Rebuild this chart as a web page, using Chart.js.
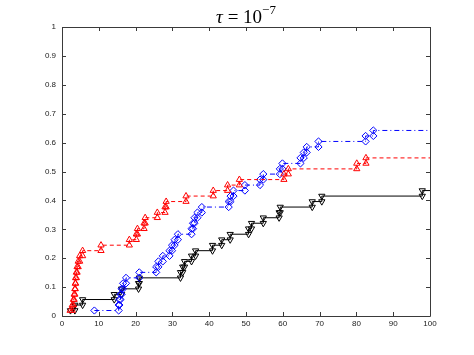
<!DOCTYPE html>
<html>
<head>
<meta charset="utf-8">
<script src="https://cdn.jsdelivr.net/npm/chart.js@4/dist/chart.umd.min.js"></script>
<style>
  html, body { margin: 0; padding: 0; background: #ffffff; }
  #wrap { width: 474px; height: 355px; }
</style>
</head>
<body>
<div id="wrap"><canvas id="c" width="474" height="355"></canvas></div>
<script>
// ---- data ----
const xTickValues = [0, 10, 20, 30, 40, 50, 60, 70, 80, 90, 100];
const xTickLabels = ['0', '10', '20', '30', '40', '50', '60', '70', '80', '90', '100'];
const yTickValues = [0, 0.1, 0.2, 0.3, 0.4, 0.5, 0.6, 0.7, 0.8, 0.9, 1];
const yTickLabels = ['0', '0.1', '0.2', '0.3', '0.4', '0.5', '0.6', '0.7', '0.8', '0.9', '1'];

// red (dashed, up triangles): x of each jump and level after it
const redStepX = [2.2, 2.8, 3.1, 3.3, 3.5, 3.6, 3.7, 3.9, 4.1, 4.4, 4.8, 5.6, 10.6, 18.3, 20.2,
                  20.5, 22.3, 22.6, 25.9, 28.0, 28.3, 33.7, 41.1, 45.0, 48.2, 60.3, 61.5, 80.1, 82.6];
const redStepY = [0.019, 0.038, 0.057, 0.075, 0.094, 0.113, 0.132, 0.151, 0.170, 0.189, 0.208, 0.226, 0.245, 0.264, 0.283,
                  0.302, 0.321, 0.340, 0.358, 0.377, 0.396, 0.415, 0.434, 0.453, 0.472, 0.491, 0.509, 0.528, 0.547];

// blue (dash-dot, diamonds)
const blueStepX = [8.8, 15.4, 15.6, 15.9, 16.2, 16.6, 17.4, 21.0, 25.6, 26.2, 27.4, 29.2, 29.9, 30.6, 31.5, 35.2, 35.6,
                   36.0, 36.8, 38.0, 45.3, 45.8, 46.6, 49.7, 53.8, 54.7, 59.2, 59.9, 64.8, 65.7, 66.5, 69.7, 82.5, 84.6];
const blueStepY = [0.019, 0.038, 0.057, 0.075, 0.094, 0.113, 0.132, 0.151, 0.170, 0.189, 0.208, 0.226, 0.245, 0.264, 0.283, 0.302, 0.321,
                   0.340, 0.358, 0.377, 0.396, 0.415, 0.434, 0.453, 0.472, 0.491, 0.509, 0.528, 0.547, 0.566, 0.585, 0.604, 0.623, 0.642];

// black (solid, down triangles)
const blackStepX = [2.3, 3.5, 5.6, 14.2, 16.2, 20.8, 21.0, 32.2, 32.8, 33.3, 35.2, 36.3, 40.9, 43.4, 45.7, 50.7, 51.5,
                    54.7, 59.0, 59.3, 68.0, 70.6, 97.9];
const blackStepY = [0.019, 0.038, 0.057, 0.075, 0.094, 0.113, 0.132, 0.151, 0.170, 0.189, 0.208, 0.226, 0.245, 0.264, 0.283, 0.302, 0.321,
                    0.340, 0.358, 0.377, 0.396, 0.415, 0.434];

const xEnd = 100;

// build stair vertices (corner before and after each jump) from the step arrays
function stairs(xs, ys) {
  const pts = [];
  const radii = [];
  for (let i = 0; i < xs.length; i++) {
    if (i > 0) { pts.push({x: xs[i], y: ys[i - 1]}); radii.push(3.6); }
    pts.push({x: xs[i], y: ys[i]}); radii.push(3.6);
  }
  pts.push({x: xEnd, y: ys[ys.length - 1]}); radii.push(0);
  return {pts, radii};
}

const red = stairs(redStepX, redStepY);
const blue = stairs(blueStepX, blueStepY);
const black = stairs(blackStepX, blackStepY);

const boxPlugin = {
  id: 'matlabBox',
  afterDatasetsDraw(chart) {
    const {ctx, chartArea: a, scales} = chart;
    ctx.save();
    ctx.strokeStyle = '#3a3a3a';
    ctx.lineWidth = 1;
    ctx.setLineDash([]);
    ctx.beginPath();
    ctx.rect(Math.round(a.left) + 0.5, Math.round(a.top) + 0.5, Math.round(a.right - a.left), Math.round(a.bottom - a.top));
    ctx.stroke();
    const tl = 4;
    ctx.beginPath();
    xTickValues.forEach(v => {
      const px = Math.round(scales.x.getPixelForValue(v)) + 0.5;
      ctx.moveTo(px, a.bottom); ctx.lineTo(px, a.bottom - tl);
      ctx.moveTo(px, a.top); ctx.lineTo(px, a.top + tl);
    });
    yTickValues.forEach(v => {
      const py = Math.round(scales.y.getPixelForValue(v)) + 0.5;
      ctx.moveTo(a.left, py); ctx.lineTo(a.left + tl, py);
      ctx.moveTo(a.right, py); ctx.lineTo(a.right - tl, py);
    });
    ctx.stroke();
    ctx.restore();
  },
  afterDraw(chart) {
    const {ctx, chartArea: a} = chart;
    ctx.save();
    ctx.fillStyle = '#000';
    ctx.textBaseline = 'alphabetic';
    const f1 = 'italic 19px "Liberation Serif"';
    const f2 = '19px "Liberation Serif"';
    const f3 = '13px "Liberation Serif"';
    const parts = [[f1, '\u03C4', 0], [f2, ' = 10', 0], [f3, '\u22127', -9]];
    let total = 0;
    parts.forEach(p => { ctx.font = p[0]; total += ctx.measureText(p[1]).width; });
    let x = (a.left + a.right) / 2 - total / 2;
    const base = 23;
    parts.forEach(p => {
      ctx.font = p[0];
      ctx.fillText(p[1], x, base + p[2]);
      x += ctx.measureText(p[1]).width;
    });
    ctx.restore();
  }
};

new Chart(document.getElementById('c'), {
  type: 'scatter',
  data: {
    datasets: [
      {
        label: 'red',
        data: red.pts,
        showLine: true,
        borderColor: '#ff0000',
        borderWidth: 1,
        borderDash: [4, 3],
        pointStyle: 'triangle',
        pointRadius: red.radii,
        pointBorderColor: '#ff0000',
        pointBackgroundColor: 'rgba(255,255,255,0)',
        pointBorderWidth: 1,
        tension: 0
      },
      {
        label: 'blue',
        data: blue.pts,
        showLine: true,
        borderColor: '#0000ff',
        borderWidth: 1,
        borderDash: [5, 3, 1, 3],
        pointStyle: 'rectRot',
        pointRadius: blue.radii,
        pointBorderColor: '#0000ff',
        pointBackgroundColor: 'rgba(255,255,255,0)',
        pointBorderWidth: 1,
        tension: 0
      },
      {
        label: 'black',
        data: black.pts,
        showLine: true,
        borderColor: '#000000',
        borderWidth: 1,
        pointStyle: 'triangle',
        rotation: 180,
        pointRadius: black.radii,
        pointBorderColor: '#000000',
        pointBackgroundColor: 'rgba(255,255,255,0)',
        pointBorderWidth: 1,
        tension: 0
      }
    ]
  },
  options: {
    responsive: false,
    animation: false,
    devicePixelRatio: 1,
    layout: { padding: { top: 27, right: 44, left: 0, bottom: 0 } },
    plugins: { legend: { display: false }, tooltip: { enabled: false }, title: { display: false } },
    scales: {
      x: {
        type: 'linear',
        min: 0, max: 100,
        afterFit(s) { s.height = 39; },
        afterBuildTicks(s) { s.ticks = xTickValues.map(v => ({value: v})); },
        grid: { display: false, drawTicks: false },
        border: { display: false },
        ticks: {
          padding: 3,
          font: { family: '"Liberation Sans"', size: 8 },
          color: '#222',
          maxRotation: 0,
          callback: (v) => xTickLabels[xTickValues.indexOf(v)]
        }
      },
      y: {
        type: 'linear',
        min: 0, max: 1,
        afterFit(s) { s.width = 62; },
        afterBuildTicks(s) { s.ticks = yTickValues.map(v => ({value: v})); },
        grid: { display: false, drawTicks: false },
        border: { display: false },
        ticks: {
          padding: 6,
          font: { family: '"Liberation Sans"', size: 8 },
          color: '#222',
          callback: (v) => {
            const i = yTickValues.findIndex(t => Math.abs(t - v) < 1e-9);
            return i >= 0 ? yTickLabels[i] : '';
          }
        }
      }
    }
  },
  plugins: [boxPlugin]
});
</script>
</body>
</html>
